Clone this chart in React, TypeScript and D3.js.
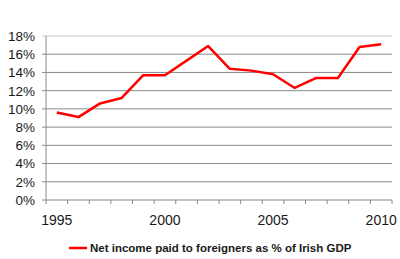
import React from "react";
import * as d3 from "d3";

const years = [1995, 1996, 1997, 1998, 1999, 2000, 2001, 2002, 2003, 2004, 2005, 2006, 2007, 2008, 2009, 2010];
const values = [9.6, 9.1, 10.6, 11.2, 13.7, 13.7, 15.3, 16.9, 14.4, 14.2, 13.8, 12.3, 13.4, 13.4, 16.8, 17.1];
const yTicks = [0, 2, 4, 6, 8, 10, 12, 14, 16, 18];
const xLabels = [1995, 2000, 2005, 2010];
const seriesName = "Net income paid to foreigners as % of Irish GDP";

const WIDTH = 400;
const HEIGHT = 259;
const LEFT = 46;
const RIGHT = 392;
const TOP = 36;
const BOTTOM = 200;

const App = () => {
  const x = d3.scaleBand<number>().domain(years).range([LEFT, RIGHT]);
  const y = d3.scaleLinear().domain([0, 18]).range([BOTTOM, TOP]);

  const line = d3
    .line<number>()
    .x((_, i) => x(years[i])! + x.bandwidth() / 2)
    .y((d) => y(d));

  const font = "'Liberation Sans', Arial, sans-serif";

  return (
    <svg
      width={WIDTH}
      height={HEIGHT}
      style={{ position: "absolute", left: 0, top: 0, background: "#fff" }}
    >
      {yTicks.map((t) => (
        <g key={t}>
          <line
            x1={LEFT - 4}
            x2={t === 0 ? LEFT : RIGHT}
            y1={y(t)}
            y2={y(t)}
            stroke={t === 18 ? "#c8c8c8" : "#8a8a8a"}
            strokeWidth={1}
          />
          <text
            x={35}
            y={y(t)}
            dy="0.36em"
            textAnchor="end"
            fontFamily={font}
            fontSize={13.5}
            fill="#1a1a1a"
          >
            {t}%
          </text>
        </g>
      ))}
      {/* axes */}
      <line x1={LEFT} x2={LEFT} y1={TOP} y2={BOTTOM} stroke="#8a8a8a" />
      <line x1={LEFT} x2={RIGHT} y1={BOTTOM} y2={BOTTOM} stroke="#8a8a8a" />
      {years.map((yr) => (
        <line
          key={yr}
          x1={x(yr)!}
          x2={x(yr)!}
          y1={BOTTOM}
          y2={BOTTOM + 4}
          stroke="#8a8a8a"
        />
      ))}
      <line x1={RIGHT} x2={RIGHT} y1={BOTTOM} y2={BOTTOM + 4} stroke="#8a8a8a" />
      {xLabels.map((yr) => (
        <text
          key={yr}
          x={x(yr)! + x.bandwidth() / 2}
          y={225}
          textAnchor="middle"
          fontFamily={font}
          fontSize={14}
          fill="#1a1a1a"
        >
          {yr}
        </text>
      ))}
      <path
        d={line(values)!}
        fill="none"
        stroke="#ff0000"
        strokeWidth={2.5}
        strokeLinejoin="round"
      />
      {/* legend */}
      <line x1={69} x2={87} y1={248} y2={248} stroke="#ff0000" strokeWidth={2.5} />
      <text
        x={90}
        y={252}
        fontFamily={font}
        fontSize={11.5}
        fontWeight="bold"
        fill="#1a1a1a"
      >
        {seriesName}
      </text>
    </svg>
  );
};

export default App;
